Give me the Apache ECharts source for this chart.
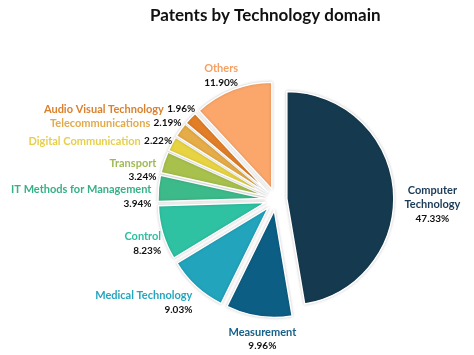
<!DOCTYPE html>
<html>
<head>
<meta charset="utf-8">
<script src="https://cdn.jsdelivr.net/npm/echarts@6/dist/echarts.min.js"></script>
<style>
html,body{margin:0;padding:0;background:#fff;}
#c{width:474px;height:355px;}
</style>
</head>
<body>
<div id="c"></div>
<script>
// ---- data ----
var categories = ["Computer Technology","Measurement","Medical Technology","Control","IT Methods for Management","Transport","Digital Communication","Telecommunications","Audio Visual Technology","Others"];
var shares = [47.33, 9.96, 9.03, 8.23, 3.94, 3.24, 2.22, 2.19, 1.96, 11.90];
var labelNames = ["Computer\nTechnology","Measurement","Medical Technology","Control","IT Methods for Management","Transport","Digital Communication","Telecommunications","Audio Visual Technology","Others"];

// ---- styles ----
var sliceColors = ["#153a4f","#0d5e85","#22a4bd","#2ec2a3","#3dba8a","#a8c14c","#e8d443","#e6ac47","#e17e27","#fba76b"];
var labelColors = ["#1b3b57","#17608a","#25a6be","#2dbfa0","#36b087","#9fba55","#e6cf4d","#e2aa4c","#db812e","#f5a064"];
var inlineLabel = [false,false,false,false,false,false,true,true,true,false];
var labelAlign  = ["center","center","right","right","right","right","right","right","right","center"];
var labelShift  = [[29,16],[5,13],[3,9],[8,8],[3,9],[2,11],[9,2],[9,-1],[12,-2],[-8,-5]];

var data = categories.map(function(c,i){
  var rich = {
    n:{fontFamily:"Lato",fontWeight:"bold",fontSize:11,color:labelColors[i],lineHeight:14,align:labelAlign[i]},
    p:{fontFamily:"Lato",fontWeight:"bold",fontSize:10,color:"#111",lineHeight:14,align:labelAlign[i]}
  };
  return {
    name:c, value:shares[i], selected:true,
    itemStyle:{color:sliceColors[i]},
    label:{
      formatter: inlineLabel[i] ? "{n|"+labelNames[i]+"} {p|"+shares[i].toFixed(2)+"%}" : "{n|"+labelNames[i]+"}\n{p|"+shares[i].toFixed(2)+"%}",
      rich:rich
    }
  };
});

var chart = echarts.init(document.getElementById('c'), null, {renderer:'canvas'});
chart.setOption({
  animation:false,
  backgroundColor:'#ffffff',
  title:{
    text:'Patents by Technology domain',
    left:145, top:2,
    textStyle:{fontFamily:'Lato',fontWeight:'bold',fontSize:17,color:'#111'}
  },
  series:[{
    type:'pie',
    center:['58.2%','56.2%'],
    radius:[0,107],
    startAngle:90,
    clockwise:true,
    selectedMode:'multiple',
    selectedOffset:11,
    avoidLabelOverlap:false,
    itemStyle:{borderColor:'#ffffff',borderWidth:1.5,shadowBlur:3,shadowColor:'rgba(0,0,0,0.18)'},
    label:{show:true,position:'outside',distanceToLabelLine:0},
    labelLine:{show:false,length:10,length2:0},
    labelLayout:function(p){
      var s = labelShift[p.dataIndex];
      return {dx:s[0],dy:s[1],align:labelAlign[p.dataIndex]};
    },
    emphasis:{disabled:true},
    select:{itemStyle:{borderColor:'#ffffff',borderWidth:1.5}},
    data:data
  }]
});
</script>
</body>
</html>
